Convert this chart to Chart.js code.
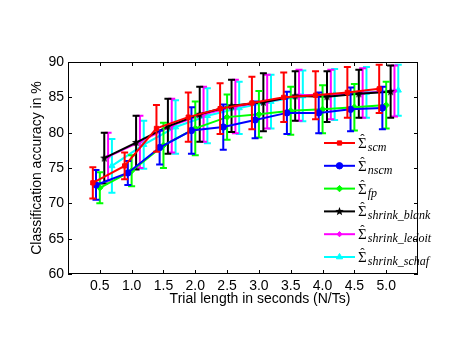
<!DOCTYPE html>
<html><head><meta charset="utf-8">
<script src="https://cdn.jsdelivr.net/npm/chart.js@4/dist/chart.umd.min.js"></script>
<style>html,body{margin:0;padding:0;background:#fff;}#wrap{width:474px;height:356px;position:relative;}</style>
</head><body><div id="wrap"><canvas id="c" width="474" height="356"></canvas></div>
<script>
// ---- data ----
const trialLengths = [0.5, 1.0, 1.5, 2.0, 2.5, 3.0, 3.5, 4.0, 4.5, 5.0];
const seriesNames = ['scm', 'nscm', 'fp', 'shrink_blank', 'shrink_ledoit', 'shrink_schaf'];
const xOffsets = [-0.11, -0.06, 0.0, 0.07, 0.13, 0.19];

const scmMean  = [72.9, 75.3, 80.6, 82.2, 83.4, 84.2, 85.0, 85.3, 85.7, 86.2];
const scmErr   = [2.2, 1.9, 3.3, 3.5, 3.6, 3.7, 3.5, 3.4, 3.6, 3.4];
const nscmMean = [72.6, 74.3, 77.9, 80.3, 80.8, 81.8, 82.8, 82.8, 83.3, 83.5];
const nscmErr  = [2.1, 1.7, 2.4, 3.3, 3.2, 2.6, 3.0, 2.9, 3.1, 3.0];
const fpMean   = [72.2, 74.6, 78.2, 80.6, 82.2, 82.6, 83.1, 83.3, 83.6, 83.9];
const fpErr    = [2.2, 2.2, 3.2, 3.8, 3.2, 3.3, 3.4, 3.4, 3.3, 3.3];
const blankMean  = [76.4, 78.6, 80.9, 82.6, 83.8, 84.3, 85.2, 85.1, 85.5, 85.8];
const blankErr   = [3.6, 3.8, 3.9, 3.9, 3.7, 4.1, 3.5, 3.6, 3.4, 3.7];
const ledoitMean = [76.6, 78.7, 81.0, 82.6, 83.7, 84.4, 85.3, 85.4, 85.6, 85.9];
const ledoitErr  = [3.4, 3.7, 3.8, 3.9, 3.8, 3.8, 3.6, 3.5, 3.5, 3.6];
const schafMean  = [75.3, 78.3, 80.8, 82.4, 83.5, 84.4, 85.2, 85.4, 85.7, 86.0];
const schafErr   = [3.8, 3.4, 3.8, 3.9, 3.7, 3.8, 3.6, 3.6, 3.6, 3.6];

const yTicks = [60, 65, 70, 75, 80, 85, 90];
const xTickLabels = ['0.5','1.0','1.5','2.0','2.5','3.0','3.5','4.0','4.5','5.0'];
const yTitle = 'Classification accuracy in %';
const xTitle = 'Trial length in seconds (N/Ts)';

// ---- styles ----
const colors = ['#ff0000', '#0000ff', '#00ff00', '#000000', '#ff00ff', '#00ffff'];
function pentagram(size, color) {
  const c = document.createElement('canvas');
  c.width = size; c.height = size;
  const g = c.getContext('2d');
  const cx = size / 2, cy = size / 2, R = size / 2, r = R * 0.42;
  g.beginPath();
  for (let k = 0; k < 10; k++) {
    const rad = k % 2 === 0 ? R : r;
    const a = -Math.PI / 2 + k * Math.PI / 5;
    const px = cx + rad * Math.cos(a), py = cy + rad * Math.sin(a);
    if (k === 0) g.moveTo(px, py); else g.lineTo(px, py);
  }
  g.closePath(); g.fillStyle = color; g.fill();
  return c;
}
const pointStyles = ['rect', 'circle', 'rectRot', pentagram(9, '#000'), 'rectRot', 'triangle'];
const pointRadii = [3, 3.2, 3.2, 4.5, 2.6, 3.6];

const means = [scmMean, nscmMean, fpMean, blankMean, ledoitMean, schafMean];
const errs = [scmErr, nscmErr, fpErr, blankErr, ledoitErr, schafErr];

const datasets = means.map((m, s) => ({
  label: seriesNames[s],
  data: trialLengths.map((t, i) => ({ x: t + xOffsets[s], y: m[i] })),
  errors: errs[s],
  borderColor: colors[s],
  backgroundColor: colors[s],
  borderWidth: 2,
  pointStyle: pointStyles[s],
  pointRadius: pointRadii[s],
  pointBorderWidth: 1,
  tension: 0,
  fill: false
}));

const errorBarPlugin = {
  id: 'errorBars',
  afterDatasetDraw(chart, args) {
    const ds = chart.data.datasets[args.index];
    const xs = chart.scales.x, ys = chart.scales.y, ctx = chart.ctx;
    ctx.save();
    ctx.strokeStyle = ds.borderColor; ctx.lineWidth = 2;
    ds.data.forEach((p, i) => {
      const e = ds.errors[i];
      const px = xs.getPixelForValue(p.x);
      const top = ys.getPixelForValue(p.y + e), bot = ys.getPixelForValue(p.y - e);
      ctx.beginPath();
      ctx.moveTo(px, top); ctx.lineTo(px, bot);
      ctx.moveTo(px - 3.5, top); ctx.lineTo(px + 3.5, top);
      ctx.moveTo(px - 3.5, bot); ctx.lineTo(px + 3.5, bot);
      ctx.stroke();
    });
    ctx.restore();
  }
};

const framePlugin = {
  id: 'frame',
  afterDraw(chart) {
    const { ctx, chartArea: a } = chart;
    const xs = chart.scales.x, ys = chart.scales.y;
    ctx.save();
    ctx.strokeStyle = '#000'; ctx.lineWidth = 1;
    ctx.strokeRect(a.left + 0.5, a.top + 0.5, a.right - a.left - 1, a.bottom - a.top - 1);
    ctx.beginPath();
    trialLengths.forEach(t => {
      const px = Math.round(xs.getPixelForValue(t)) + 0.5;
      ctx.moveTo(px, a.bottom); ctx.lineTo(px, a.bottom - 4);
      ctx.moveTo(px, a.top); ctx.lineTo(px, a.top + 4);
    });
    yTicks.forEach(v => {
      const py = Math.round(ys.getPixelForValue(v)) + 0.5;
      ctx.moveTo(a.left, py); ctx.lineTo(a.left + 4, py);
      ctx.moveTo(a.right, py); ctx.lineTo(a.right - 4, py);
    });
    ctx.stroke();
    // titles
    ctx.fillStyle = '#000';
    ctx.font = '14px "Liberation Sans", Arial, sans-serif';
    ctx.textAlign = 'center'; ctx.textBaseline = 'middle';
    ctx.fillText(xTitle, 260, 299);
    ctx.translate(37, (a.top + a.bottom) / 2);
    ctx.rotate(-Math.PI / 2);
    ctx.fillText(yTitle, 0, 0);
    ctx.restore();
  }
};

const legendPlugin = {
  id: 'mathLegend',
  afterDraw(chart) {
    const ctx = chart.ctx;
    ctx.save();
    chart.data.datasets.forEach((ds, i) => {
      const y = 143 + i * 22.8;
      ctx.strokeStyle = ds.borderColor; ctx.lineWidth = 2;
      ctx.beginPath(); ctx.moveTo(324, y); ctx.lineTo(355, y); ctx.stroke();
      ctx.fillStyle = ds.backgroundColor; ctx.lineWidth = 1;
      Chart.helpers.drawPoint(ctx, {
        pointStyle: ds.pointStyle, radius: ds.pointRadius, rotation: 0, borderWidth: 1
      }, 339.5, y);
      // text
      ctx.fillStyle = '#000';
      ctx.textBaseline = 'alphabetic'; ctx.textAlign = 'left';
      ctx.font = '15px "Liberation Serif", "Times New Roman", serif';
      const bx = 358, by = y + 5;
      ctx.fillText('Σ', bx, by);
      const w = ctx.measureText('Σ').width;
      ctx.font = '13px "Liberation Serif", serif';
      ctx.textAlign = 'center';
      ctx.fillText('ˆ', bx + w / 2, by - 5);
      ctx.textAlign = 'left';
      ctx.font = 'italic 12px "Liberation Serif", "Times New Roman", serif';
      ctx.fillText(ds.label, bx + w + 1, by + 3);
    });
    ctx.restore();
  }
};

new Chart(document.getElementById('c'), {
  type: 'line',
  data: { datasets },
  options: {
    responsive: false,
    animation: false,
    devicePixelRatio: 1,
    layout: { padding: { top: 62, right: 56, left: 0, bottom: 0 } },
    plugins: { legend: { display: false }, tooltip: { enabled: false } },
    scales: {
      x: {
        type: 'linear', min: 0, max: 5.5,
        grid: { display: false, drawTicks: false },
        border: { display: false },
        afterFit(s) { s.height = 82; },
        afterBuildTicks(s) { s.ticks = trialLengths.map(v => ({ value: v })); },
        ticks: {
          autoSkip: false, maxRotation: 0, padding: 4, color: '#000',
          font: { family: '"Liberation Sans", Arial, sans-serif', size: 14 },
          callback: (v, i) => xTickLabels[i]
        }
      },
      y: {
        min: 60, max: 90,
        grid: { display: false, drawTicks: false },
        border: { display: false },
        afterFit(s) { s.width = 68; },
        afterBuildTicks(s) { s.ticks = yTicks.map(v => ({ value: v })); },
        ticks: {
          padding: 4, color: '#000',
          font: { family: '"Liberation Sans", Arial, sans-serif', size: 14 }
        }
      }
    }
  },
  plugins: [errorBarPlugin, framePlugin, legendPlugin]
});
</script></body></html>
